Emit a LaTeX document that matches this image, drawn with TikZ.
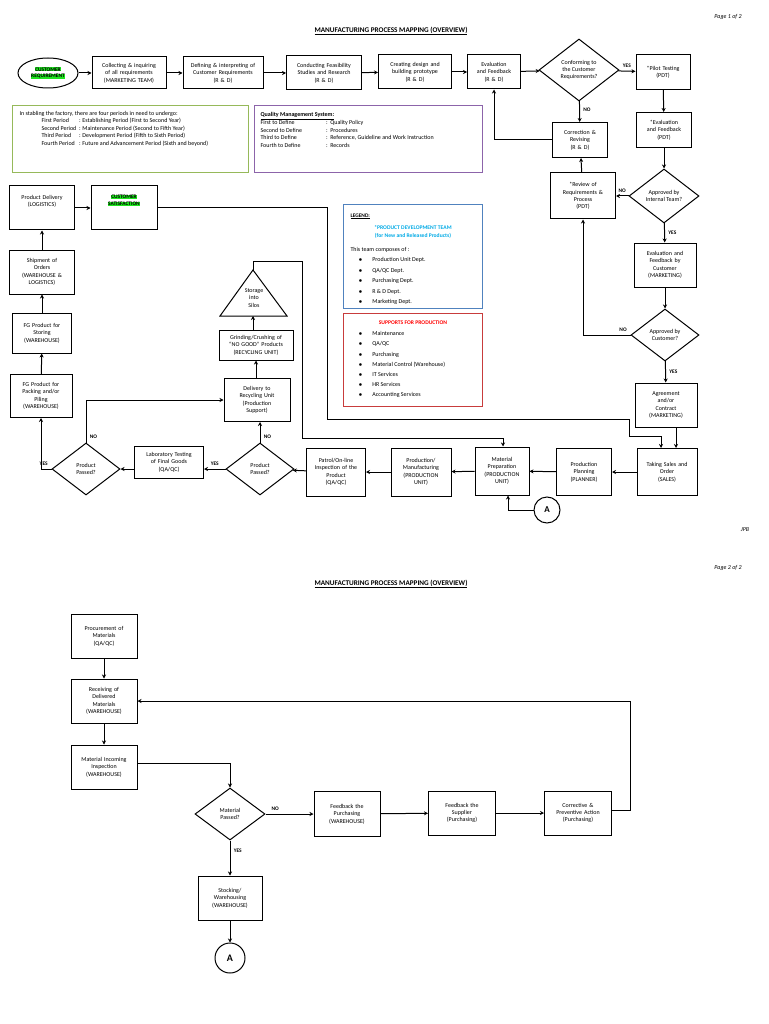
\documentclass[tikz,border=0pt]{standalone}
\usepackage{fontspec}
\setmainfont{Carlito}
\usetikzlibrary{shapes.geometric,arrows.meta}
\definecolor{hl}{RGB}{30,230,30}
\definecolor{gbox}{RGB}{150,185,90}
\definecolor{pbox}{RGB}{140,100,170}
\definecolor{bbox}{RGB}{80,130,190}
\definecolor{rbox}{RGB}{200,60,60}
\definecolor{cyantx}{RGB}{0,170,230}
\newcommand{\hlt}[1]{{\setlength{\fboxsep}{0.4pt}\colorbox{hl}{#1}}}
\begin{document}
\begin{tikzpicture}[x=1pt,y=-1pt,
  every node/.style={font=\fontsize{6}{7.4}\selectfont},
  bx/.style args={#1x#2}{draw,line width=1pt,align=center,minimum width=#1pt,minimum height=#2pt,inner sep=1pt,text width=#1pt-4pt},
  dm/.style args={#1x#2}{draw,diamond,line width=1pt,align=center,minimum width=#1pt,minimum height=#2pt,inner sep=0pt},
  ar/.style={draw,line width=1pt,-{Stealth[length=4pt,width=4pt]}},
  ln/.style={draw,line width=1pt},
  lb/.style={font=\fontsize{5.4}{6}\selectfont\bfseries},
  note/.style={draw,line width=0.8pt,anchor=north west,inner sep=0pt}]
\useasboundingbox (0,0) rectangle (768,1024);
\fill[white] (0,0) rectangle (768,1024);
% headers
\node (p1) at (728,17) {\itshape Page 1 of 2};
\node (t1) at (391,31) {\bfseries\fontsize{7.2}{8}\selectfont\underline{MANUFACTURING PROCESS MAPPING (OVERVIEW)}};
\node (jpb) at (745,530) {\itshape JPB};
\node (p2) at (728,568) {\itshape Page 2 of 2};
\node (t2) at (391,584) {\bfseries\fontsize{7.2}{8}\selectfont\underline{MANUFACTURING PROCESS MAPPING (OVERVIEW)}};
% top row
\node[draw,ellipse,line width=1pt,minimum width=60pt,minimum height=30pt,inner sep=0pt,align=center,font=\fontsize{5.4}{6.8}\selectfont\bfseries] (cr) at (48,73) {\hlt{CUSTOMER}\\\hlt{REQUIREMENT}};
\node[bx=74x32] (col) at (129,73) {Collecting \& inquiring\\of all requirements\\(MARKETING TEAM)};
\node[bx=80x32] (def) at (223,73) {Defining \& interpreting of\\Customer Requirements\\(R \& D)};
\node[bx=75x34] (con) at (324,73) {Conducting Feasibility\\Studies and Research\\(R \& D)};
\node[bx=73x34] (cre) at (415,72) {Creating design and\\building prototype\\(R \& D)};
\node[bx=53x34] (ev) at (494,72) {Evaluation\\and Feedback\\(R \& D)};
\node[dm=80x62] (cf) at (579,70) {Conforming to\\the Customer\\Requirements?};
\node[bx=54x35] (pt) at (663,72) {*Pilot Testing\\(PDT)};
\node[bx=55x35] (crr) at (580,140) {Correction \&\\Revising\\(R \& D)};
\node[bx=55x35] (evp) at (664,130) {*Evaluation\\and Feedback\\(PDT)};
\node[dm=70x54] (ait) at (664,196) {Approved by\\Internal Team?};
\node[bx=65x46] (rev) at (583,196) {*Review of\\Requirements \&\\Process\\(PDT)};
\node[bx=62x44] (evc) at (665,265) {Evaluation and\\Feedback by\\Customer\\(MARKETING)};
\node[dm=68x52] (ac) at (665,335) {Approved by\\Customer?};
\node[bx=62x44] (agr) at (666,405) {Agreement\\and/or\\Contract\\(MARKETING)};
\node[bx=60x47] (ts) at (667,472) {Taking Sales and\\Order\\(SALES)};
% bottom row
\node[bx=55x47] (pp) at (584,472) {Production\\Planning\\(PLANNER)};
\node[bx=54x48] (mp) at (502,471) {Material\\Preparation\\(PRODUCTION\\UNIT)};
\node[bx=60x48] (pm) at (421,472) {Production/\\Manufacturing\\(PRODUCTION\\UNIT)};
\node[bx=59x48] (pat) at (336,472) {Patrol/On-line\\Inspection of the\\Product\\(QA/QC)};
\node[dm=68x52] (d2) at (260,469) {Product\\Passed?};
\node[bx=69x32] (lab) at (169,462) {Laboratory Testing\\of Final Goods\\(QA/QC)};
\node[dm=68x52] (d1) at (86,469) {Product\\Passed?};
\node[bx=62x43] (fgp) at (41,396) {FG Product for\\Packing and/or\\Piling\\(WAREHOUSE)};
\node[bx=59x40] (fgs) at (42,333) {FG Product for\\Storing\\(WAREHOUSE)};
\node[bx=65x44] (sh) at (42,272) {Shipment of\\Orders\\(WAREHOUSE \&\\LOGISTICS)};
\node[bx=65x44,text depth=22pt] (pd) at (42,208) {Product Delivery\\(LOGISTICS)};
\node[bx=66x44,text depth=22pt,font=\fontsize{5.4}{6.8}\selectfont\bfseries] (cs) at (124,208) {\hlt{CUSTOMER}\\\hlt{SATISFACTION}};
\node[bx=66x43] (dr) at (257,400) {Delivery to\\Recycling Unit\\(Production\\Support)};
\node[bx=74x30] (gr) at (256,345) {Grinding/Crushing of\\``NO GOOD'' Products\\(RECYCLING UNIT)};
\draw[line width=1pt] (220,316) -- (287,316) -- (253,270) -- cycle;
\node[align=center] (st) at (254,298) {Storage\\into\\Silos};
\coordinate (apex) at (253,270);
\node[draw,circle,line width=1pt,minimum size=26pt,inner sep=0pt,font=\fontsize{9}{10}\selectfont\bfseries] (A1) at (547,510) {A};
% notes
\node[note,draw=gbox,minimum width=236pt,minimum height=67pt] (gn) at (12,105) {};
\node[anchor=north west,align=left] (gt) at (16,108) {In stabling the factory, there are four periods in need to undergo:\\
\hspace*{22pt}\begin{tabular}{@{}l@{\ \ }l@{}}First Period & : Establishing Period (First to Second Year)\\
Second Period & : Maintenance Period (Second to Fifth Year)\\
Third Period & : Development Period (Fifth to Sixth Period)\\
Fourth Period & : Future and Advancement Period (Sixth and beyond)\end{tabular}};
\node[note,draw=pbox,minimum width=228pt,minimum height=67pt] (pn) at (254,105) {};
\node[anchor=north west,align=left] (pt2) at (257,108) {\begin{tabular}{@{}l@{\hspace{24pt}}l@{}}\multicolumn{2}{@{}l}{\bfseries\underline{Quality Management System:}}\\
First to Define & :\ \ Quality Policy\\
Second to Define & :\ \ Procedures\\
Third to Define & :\ \ Reference, Guideline and Work Instruction\\
Fourth to Define & :\ \ Records\end{tabular}};
\node[note,draw=bbox,minimum width=139pt,minimum height=104pt] (bn) at (343,204) {};
\node[anchor=north west,font=\fontsize{5.4}{6}\selectfont\bfseries] (lg) at (347,210) {\underline{LEGEND:}};
\node[align=center,text=cyantx,font=\fontsize{5.6}{7.6}\selectfont\bfseries] (pdt) at (413,232) {*PRODUCT DEVELOPMENT TEAM\\(for New and Released Products)};
\node[anchor=north west,align=left] (tc) at (347,244) {This team composes of :};
\node[anchor=north west,align=left,font=\fontsize{6}{10.5}\selectfont] (tl) at (355,254) {$\bullet$\hspace{10pt}Production Unit Dept.\\$\bullet$\hspace{10pt}QA/QC Dept.\\$\bullet$\hspace{10pt}Purchasing Dept.\\$\bullet$\hspace{10pt}R \& D Dept.\\$\bullet$\hspace{10pt}Marketing Dept.};
\node[note,draw=rbox,minimum width=139pt,minimum height=93pt] (rn) at (343,313) {};
\node[text=red,font=\fontsize{5.6}{6}\selectfont\bfseries] (sp) at (413,323) {SUPPORTS FOR PRODUCTION};
\node[anchor=north west,align=left,font=\fontsize{6}{10.2}\selectfont] (sl) at (355,328) {$\bullet$\hspace{10pt}Maintenance\\$\bullet$\hspace{10pt}QA/QC\\$\bullet$\hspace{10pt}Purchasing\\$\bullet$\hspace{10pt}Material Control (Warehouse)\\$\bullet$\hspace{10pt}IT Services\\$\bullet$\hspace{10pt}HR Services\\$\bullet$\hspace{10pt}Accounting Services};
% connectors page 1
\path[ar] (cr) -- (col);
\path[ar] (col) -- (def);
\path[ar] (def) -- (con);
\path[ar] (con) -- (cre);
\path[ar] (cre) -- (ev);
\path[ar] (ev) -- (cf);
\path[ar] (cf) -- node[lb,above]{YES} (pt);
\path[ar] (cf) -- node[lb,right,pos=0.4]{NO} (crr);
\path[ar] (crr.west) -| (ev.south);
\path[ar] (pt) -- (evp);
\path[ar] (evp) -- (ait);
\path[ar] (ait) -- node[lb,above]{NO} (rev);
\path[ar] (rev) -- (crr);
\path[ar] (ait) -- node[lb,right]{YES} (evc);
\path[ar] (evc) -- (ac);
\path[ar] (ac.west) node[lb,above left]{NO} -| (rev.south);
\path[ar] (ac) -- node[lb,right]{YES} (agr);
\path[ar] (agr.south -| 676,0) -- (ts.north -| 676,0);
\path[ar] (cs.east |- 0,208) -- (327,208) -- (327,419) -- (629,419) -- (629,436) -- (661,436) -- (ts.north -| 661,0);
\path[ar] (ts) -- (pp);
\path[ar] (pp) -- (mp);
\path[ar] (mp) -- (pm);
\path[ar] (pm) -- (pat);
\path[ar] (pat) -- (d2);
\path[ar] (d2.west) -- node[lb,above]{YES} (lab.east |- d2.west);
\path[ar] (lab.west |- d1.east) -- (d1.east);
\path[ar] (d1.west) node[lb,above left]{YES} -| (fgp.south);
\path[ar] (d1.north) node[lb,above right]{NO} |- (dr.west |- 0,400);
\path[ar] (d2.north) node[lb,above right]{NO} -- (dr.south -| d2.north);
\path[ar] (dr.north -| 256,0) -- (gr);
\path[ar] (gr.north -| 253,0) -- (253,316);
\path[ar] (apex) -- (253,261) -- (302,261) -- (302,438) -- (503,438) -- (mp.north -| 503,0);
\path[ar] (A1.west) -- (508,510) -- (mp.south -| 508,0);
\path[ar] (fgp) -- (fgs);
\path[ar] (fgs) -- (sh);
\path[ar] (sh) -- (pd);
\path[ar] (pd) -- (cs);
% page 2
\node[bx=66x44] (pr) at (104,636) {Procurement of\\Materials\\(QA/QC)};
\node[bx=66x44] (rc) at (104,701) {Receiving of\\Delivered\\Materials\\(WAREHOUSE)};
\node[bx=66x44] (mi) at (104,767) {Material Incoming\\Inspection\\(WAREHOUSE)};
\node[dm=70x52] (mpd) at (230,814) {Material\\Passed?};
\node[bx=66x45] (fp) at (347,814) {Feedback the\\Purchasing\\(WAREHOUSE)};
\node[bx=67x44] (fs) at (462,813) {Feedback the\\Supplier\\(Purchasing)};
\node[bx=67x44] (ca) at (578,813) {Corrective \&\\Preventive Action\\(Purchasing)};
\node[bx=64x44] (sw) at (230,898) {Stocking/\\Warehousing\\(WAREHOUSE)};
\node[draw,circle,line width=1pt,minimum size=30pt,inner sep=0pt,font=\fontsize{10}{11}\selectfont\bfseries] (A2) at (230,958) {A};
\path[ar] (pr) -- (rc);
\path[ar] (rc) -- (mi);
\path[ar] (mi.east |- 0,763) -| (mpd.north);
\path[ar] (mpd) -- node[lb,above,pos=0.2]{NO} (fp);
\path[ar] (fp) -- (fs);
\path[ar] (fs) -- (ca);
\path[ar] (ca.east |- 0,810) -- (630,810) -- (630,701) -- (rc.east);
\path[ar] (mpd) -- node[lb,right,pos=0.3]{YES} (sw);
\path[ar] (sw) -- (A2);
\end{tikzpicture}
\end{document}
